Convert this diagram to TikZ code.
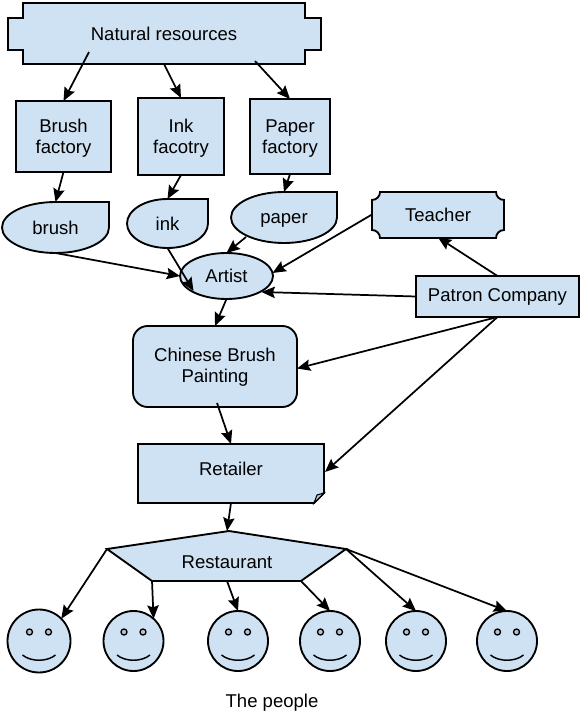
\documentclass[tikz,border=0pt]{standalone}
\usepackage{fontspec}
\setmainfont{Liberation Sans}
\usetikzlibrary{arrows.meta,shapes.geometric}
\definecolor{boxblue}{HTML}{CFE2F3}
\tikzset{
  outline/.style={draw=black,fill=boxblue,line width=1.4pt,line join=miter},
  label/.style={inner sep=0pt,outer sep=0pt,align=center,font=\fontsize{13.9}{16}\selectfont},
  box/.style={label,outline,rectangle},
  arr/.style={line width=1.3pt,-{Stealth[length=10pt,width=8.5pt,inset=1.5pt]}},
}
\newcommand{\leafshape}[4]{\draw[outline] (#1,#2-#4) -- (#1+#3,#2-#4) -- (#1+#3,#2)
  arc[start angle=0,end angle=270,x radius=#3,y radius=#4];}
\begin{document}
\begin{tikzpicture}[x=0.75pt,y=-0.75pt]
  \useasboundingbox (0,0) rectangle (580,712);
  % top row
  \draw[outline] (23,3)--(305,3)--(305,18)--(321,18)--(321,50)--(305,50)--(305,64)--(23,64)--(23,50)--(8,50)--(8,18)--(23,18)--cycle;
  \node[label,minimum width=211.5pt,minimum height=45.75pt] (natural) at (164,33.5) {Natural resources};
  \node[box,text depth=0pt,minimum width=71.25pt,minimum height=53.25pt] (brushfactory) at (63.5,136.5) {Brush\\factory};
  \node[box,text depth=0pt,minimum width=64.5pt,minimum height=57.75pt] (inkfactory) at (181,136.5) {Ink\\facotry};
  \node[box,text depth=0pt,minimum width=60pt,minimum height=56.25pt] (paperfactory) at (290,136.5) {Paper\\factory};
  % materials
  \leafshape{55.5}{227.5}{53.5}{25.5}
  \node[label,minimum width=80pt,minimum height=38.25pt] (brush) at (55.5,227.5) {brush};
  \leafshape{167.5}{223.5}{40.5}{24.5}
  \node[label,minimum width=60pt,minimum height=36.75pt] (ink) at (167.5,223.5) {ink};
  \leafshape{284}{217.5}{53}{25.5}
  \node[label,text height=9pt,text depth=0pt,minimum width=79pt,minimum height=38.25pt] (paper) at (284,217.5) {paper};
  \node[label,outline,ellipse,minimum width=69.75pt,minimum height=34.5pt] (artist) at (226.5,276) {Artist};
  % right side
  \draw[outline] (380,192)--(496,192) arc[start angle=180,end angle=90,radius=8] -- (504,230)
    arc[start angle=270,end angle=180,radius=8] -- (380,238) arc[start angle=0,end angle=-90,radius=8]
    -- (372,200) arc[start angle=90,end angle=0,radius=8] -- cycle;
  \node[label,minimum width=99pt,minimum height=34.5pt] (teacher) at (438,214.5) {Teacher};
  \node[box,text depth=2pt,minimum width=122.25pt,minimum height=30.75pt] (patron) at (497.5,296.5) {Patron Company};
  % painting and retailer
  \node[box,rounded corners=11pt,text depth=2pt,minimum width=123pt,minimum height=60.75pt] (painting) at (215,366.5) {Chinese Brush\\Painting};
  \draw[outline] (138,444)--(324,444)--(324,493)--(314,503)--(138,503)--cycle;
  \draw[outline,fill=gray!45,line width=0.8pt] (314,503)--(317,495)--(324,493)--cycle;
  \node[label,text depth=7.5pt,minimum width=139.5pt,minimum height=44.25pt] (retailer) at (231,473.5) {Retailer};
  % restaurant
  \coordinate (restleft) at (107,549);
  \coordinate (resttop) at (229,531);
  \coordinate (restright) at (346,549);
  \coordinate (restbr) at (301,581);
  \coordinate (restbl) at (152,581);
  \draw[outline] (restleft)--(resttop)--(restright)--(restbr)--(restbl)--cycle;
  \node[label,text height=18.25pt,text depth=0pt,minimum width=110pt,minimum height=37.5pt] (restaurant) at (227,556) {Restaurant};
  % the people
  \foreach \n/\x/\r in {1/39/31.5,2/133.5/30,3/238/30,4/330/30,5/416/30,6/507/30} {
    \node[circle,outline,inner sep=0pt,outer sep=0pt,minimum size=\r*1.5pt] (face\n) at (\x,641) {};
    \draw[line width=1pt,fill=boxblue!70!gray] (\x-9.5,632) circle (3) (\x+9.5,632) circle (3);
    \draw[line width=1.1pt] (\x-16.5,655) .. controls (\x-8,662) and (\x+8,662) .. (\x+16.5,655);
  }
  \node[label] (people) at (272,702.5) {The people};
  % connectors
  \draw[arr] ([shift={(-75,18.5)}]natural.center) -- (brushfactory.north);
  \draw[arr] (natural.south) -- (inkfactory.north);
  \draw[arr] ([shift={(91,27.5)}]natural.center) -- (paperfactory.north);
  \draw[arr] (brushfactory.south) -- (brush.north);
  \draw[arr] (inkfactory.south) -- (ink.north);
  \draw[arr] (paperfactory.south) -- (paper.north);
  \draw[arr] (brush.south) -- (artist.west);
  \draw[arr] (ink.south) -- ([shift={(-33,15)}]artist.center);
  \draw[arr] ([shift={(-38,19.5)}]paper.center) -- (artist.north);
  \draw[arr] (teacher.west) -- ([shift={(46,-3)}]artist.center);
  \draw[arr] (patron.north) -- (teacher.south);
  \draw[arr] (patron.west) -- ([shift={(35,16)}]artist.center);
  \draw[arr] (artist.south) -- (painting.north);
  \draw[arr] (patron.south) -- ([yshift=-1.5pt]painting.east);
  \draw[arr] (patron.south) -- ([shift={(94,-1.5)}]retailer.center);
  \draw[arr] ([shift={(2,36.5)}]painting.center) -- (retailer.north);
  \draw[arr] (retailer.south) -- (restaurant.north);
  \draw[arr] (restleft) -- (face1.45);
  \draw[arr] (restbl) -- (face2.48);
  \draw[arr] (restaurant.south) -- (face3.north);
  \draw[arr] (restbr) -- (face4.north);
  \draw[arr] (restright) -- (face5.north);
  \draw[arr] (restright) -- (face6.north);
\end{tikzpicture}
\end{document}
